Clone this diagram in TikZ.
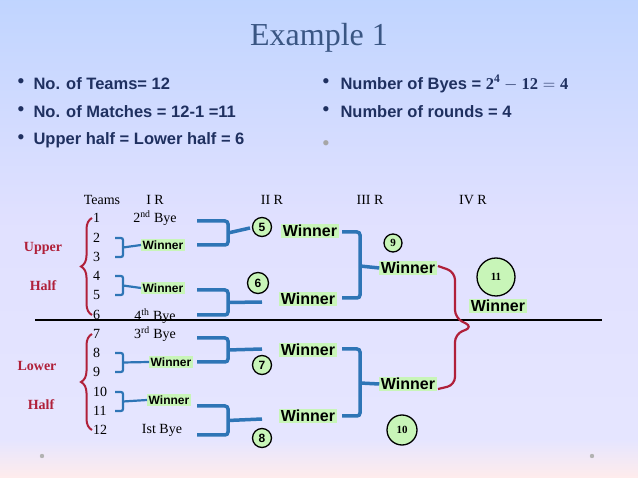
\documentclass[tikz,border=0pt]{standalone}
\usepackage{fontspec}
\setmainfont{Liberation Serif}
\setsansfont{Liberation Sans}
\usetikzlibrary{decorations.pathreplacing}
\definecolor{ttl}{HTML}{3A5683}
\definecolor{navy}{HTML}{1F3060}
\definecolor{gr}{HTML}{C8F5B8}
\definecolor{bl}{HTML}{2E75B6}
\definecolor{rd}{HTML}{B0203A}
\begin{document}
\begin{tikzpicture}[x=1pt,y=-1pt,
 bul/.style={anchor=west,text=navy,font=\sffamily\bfseries\fontsize{16.5}{18}\selectfont},
 dot/.style={anchor=center,text=navy,font=\fontsize{22}{22}\selectfont},
 lab/.style={font=\fontsize{14}{15}\selectfont,inner sep=0pt},
 num/.style={lab,anchor=west},
 hf/.style={font=\bfseries\fontsize{14}{15}\selectfont,text=rd},
 win/.style={fill=gr,inner sep=1.5pt,font=\sffamily\bfseries\fontsize{16}{17}\selectfont},
 swin/.style={fill=gr,inner sep=1.5pt,font=\sffamily\bfseries\fontsize{12}{13}\selectfont},
 circ/.style={circle,draw,line width=1.3pt,fill=gr,inner sep=0pt,minimum size=19pt,font=\sffamily\bfseries\fontsize{12}{12}\selectfont},
 br/.style={draw=bl,line width=3.5pt,rounded corners=3pt},
 rb/.style={draw=rd,line width=2pt,decorate,decoration={brace,amplitude=11pt}}]
\useasboundingbox (0,0) rectangle (638,478);
\shade[top color=blue!18!white!92!cyan, bottom color=blue!10!white, middle color=blue!12!white] (0,0) rectangle (638,440);
\shade[top color=blue!10!white, bottom color=pink!30!white] (0,440) rectangle (638,478);
\node[text=ttl,font=\fontsize{32}{34}\selectfont] (title) at (319,38) {Example 1};
\foreach \y/\t [count=\i] in {84/{No. of Teams= 12},112/{No. of Matches = 12-1 =11},140/{Upper half = Lower half = 6}}{
 \node[dot] (lb\i) at (21,\y) {\textbullet};
 \node[bul] (lt\i) at (30,\y) {\t};}
\node[dot] (rb1) at (326,84) {\textbullet};
\node[bul] (rt1) at (337,84) {Number of Byes = $\mathbf{2^4-12=4}$};
\node[dot] (rb2) at (326,112) {\textbullet};
\node[bul] (rt2) at (337,112) {Number of rounds = 4};
\node[text=gray!70,font=\fontsize{22}{22}\selectfont] (rb3) at (326,146) {\textbullet};
% headers
\node[lab] (hT) at (102,200) {Teams};
\node[lab] (h1) at (155,200) {I R};
\node[lab] (h2) at (272,200) {II R};
\node[lab] (h3) at (370,200) {III R};
\node[lab] (h4) at (473,200) {IV R};
\foreach \n/\y in {1/218,2/238,3/257,4/276,5/295,6/315,7/334,8/353,9/372,10/392,11/411,12/430}
 \node[num] (t\n) at (93,\y) {\n};
\node[lab] (b2) at (155,218) {2\textsuperscript{nd} Bye};
\node[lab] (b4) at (155,316) {4\textsuperscript{th} Bye};
\node[lab] (b3) at (155,334) {3\textsuperscript{rd} Bye};
\node[lab] (b1) at (162,430) {Ist Bye};
\node[swin] (w23) at (163,245) {Winner};
\node[swin] (w45) at (163,288) {Winner};
\node[swin] (w89) at (171,362) {Winner};
\node[swin] (w1011) at (169,400) {Winner};
% red half braces
\draw[rb] (92,315) -- (92,218);
\draw[rb] (92,430) -- (92,334);
\node[hf] (u1) at (43,248) {Upper};
\node[hf] (u2) at (43,286) {Half};
\node[hf] (l1) at (37,366) {Lower};
\node[hf] (l2) at (41,405) {Half};
% small brackets I R
\foreach \a/\b/\w in {238/257/w23,276/295/w45,353/372/w89,392/411/w1011}{
 \draw[bl,line width=2.2pt,rounded corners=2pt] (115,\a) -- (123,\a) -- (123,\b) -- (115,\b);
 \draw[bl,line width=2.2pt] (123,{(\a+\b)/2}) -- (\w.west);}
\draw[black,line width=1.8pt] (35,320) -- (602,320);
% II R
\node[circ] (c5) at (262,227) {5};
\node[win] (W5) at (310,231) {Winner};
\node[circ,minimum size=21pt] (c6) at (258,283) {6};
\node[win] (W6) at (308,299) {Winner};
\node[win] (W7) at (308,350) {Winner};
\node[circ] (c7) at (262,365) {7};
\node[win] (W8) at (308,416) {Winner};
\node[circ] (c8) at (262,438) {8};
\coordinate (e5) at (250,228);
\coordinate (e6) at (262,302);
\coordinate (e7) at (262,349);
\coordinate (e8) at (262,419);
\foreach \a/\b/\e in {221/245/e5,290/315/e6,338/362/e7,406/435/e8}{
 \draw[br] (197,\a) -- (228,\a) -- (228,\b) -- (197,\b);
 \draw[bl,line width=3.5pt] (228,{(\a+\b)/2}) -- (\e);}
% III R
\node[circ,minimum size=18pt,font=\bfseries\fontsize{11}{11}\selectfont] (c9) at (393,243) {9};
\node[win] (W9) at (408,268) {Winner};
\node[win] (W10) at (408,384) {Winner};
\node[circ,minimum size=30pt,font=\bfseries\fontsize{11}{11}\selectfont] (c10) at (402,430) {10};
\draw[br] (342,232) -- (360,232) -- (360,298) -- (342,298);
\draw[bl,line width=3.5pt] (360,266) -- (W9.west);
\draw[br] (342,349) -- (360,349) -- (360,416) -- (342,416);
\draw[bl,line width=3.5pt] (360,383) -- (W10.west);
% IV R
\draw[draw=rd,line width=2.2pt,rounded corners=8pt] (438,266) -- (455,272) -- (455,318) -- (473,327) -- (455,334) -- (455,385) -- (438,389);
\node[circ,minimum size=38pt,font=\bfseries\fontsize{11}{11}\selectfont] (c11) at (496,277) {11};
\node[win] (W11) at (498,306) {Winner};
\fill[gray!60] (42,456) circle (2.2pt) (592,456) circle (2.2pt);
\end{tikzpicture}
\end{document}
